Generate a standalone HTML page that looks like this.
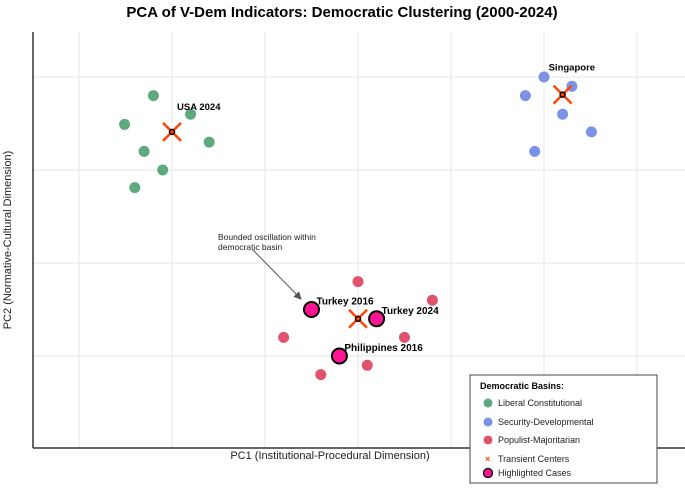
<!DOCTYPE html>
<html><head><meta charset="utf-8"><style>
body{margin:0;background:#fff;}
svg{display:block;font-family:"Liberation Sans",Arial,sans-serif;}
</style></head><body>
<svg id="chart" width="685" height="490">
<defs><marker id="ah" markerWidth="8" markerHeight="8" refX="7" refY="4" orient="auto"><path d="M0,0 L8,4 L0,8 z" fill="#555"/></marker></defs>
<text x="342" y="17" text-anchor="middle" font-size="15" font-weight="bold">PCA of V-Dem Indicators: Democratic Clustering (2000-2024)</text>
<g id="grid"></g>
<line x1="33" y1="32" x2="33" y2="448" stroke="#333" stroke-width="1.5"/>
<line x1="33" y1="448" x2="685" y2="448" stroke="#333" stroke-width="1.5"/>
<text x="330" y="459" text-anchor="middle" font-size="11" fill="#222">PC1 (Institutional-Procedural Dimension)</text>
<text transform="translate(11,240) rotate(-90)" text-anchor="middle" font-size="11" fill="#222">PC2 (Normative-Cultural Dimension)</text>
<g id="marks"></g>
<text x="218" y="240" font-size="8.5" fill="#222"><tspan x="218">Bounded oscillation within</tspan><tspan x="218" dy="10">democratic basin</tspan></text>
<line x1="252" y1="249" x2="301" y2="299" stroke="#555" stroke-width="1" marker-end="url(#ah)"/>
<g>
<rect x="470" y="375" width="187" height="108" fill="#fff" stroke="#444" stroke-width="1"/>
<text x="480" y="389" font-size="9" font-weight="bold">Democratic Basins:</text>
<circle cx="488" cy="403" r="4.5" fill="#5fa97f"/><text x="498" y="406" font-size="9" fill="#222">Liberal Constitutional</text>
<circle cx="488" cy="422" r="4.5" fill="#7b93e6"/><text x="498" y="425" font-size="9" fill="#222">Security-Developmental</text>
<circle cx="488" cy="440" r="4.5" fill="#e0536f"/><text x="498" y="443" font-size="9" fill="#222">Populist-Majoritarian</text>
<text x="485" y="462" font-size="9" fill="#ff4500" font-weight="bold">×</text><text x="498" y="462" font-size="9" fill="#222">Transient Centers</text>
<circle cx="488" cy="473" r="4.5" fill="#ff1493" stroke="#000" stroke-width="1.3"/><text x="498" y="476" font-size="9" fill="#222">Highlighted Cases</text>
</g>
</svg>
<script>
const liberalX=[-2.2,-2.51,-1.8,-1.6,-2.3,-2.1,-2.4];
const liberalY=[1.8,1.49,1.6,1.3,1.2,1.0,0.81];
const securityX=[2.0,1.8,2.3,2.2,2.51,1.9];
const securityY=[2.0,1.8,1.9,1.6,1.41,1.2];
const populistX=[0,0.8,-0.8,0.5,0.1,-0.4];
const populistY=[-0.2,-0.4,-0.8,-0.8,-1.1,-1.2];
const centerX=[-2.0,2.2,0];
const centerY=[1.41,1.81,-0.6];
const highlightLabels=["Turkey 2016","Turkey 2024","Philippines 2016"];
const highlightX=[-0.5,0.2,-0.2];
const highlightY=[-0.5,-0.6,-1.0];
const xTicks=[-3,-2,-1,0,1,2,3];
const yTicks=[2,1,0,-1];
const sx=v=>358+v*93, sy=v=>263-v*93;
const NS="http://www.w3.org/2000/svg";
const grid=document.getElementById('grid'), marks=document.getElementById('marks');
function mk(tag,attrs,parent){const e=document.createElementNS(NS,tag);for(const k in attrs)e.setAttribute(k,attrs[k]);parent.appendChild(e);return e;}
xTicks.forEach(t=>{const l=mk('line',{x1:sx(t),x2:sx(t),y1:32,y2:448,stroke:'#e6e6e6','stroke-width':1},grid);

});
yTicks.forEach(t=>{const l=mk('line',{x1:33,x2:685,y1:sy(t),y2:sy(t),stroke:'#e6e6e6','stroke-width':1},grid);

});
function pts(X,Y,color,name){X.forEach((x,i)=>{const c=mk('circle',{cx:sx(x),cy:sy(Y[i]),r:5.5,fill:color},marks);

});}
pts(liberalX,liberalY,'#5fa97f','liberal-point');
pts(securityX,securityY,'#7b93e6','security-point');
pts(populistX,populistY,'#e0536f','populist-point');
centerX.forEach((x,i)=>{const g=mk('g',{},marks);


const cx=sx(x),cy=sy(centerY[i]);
mk('line',{x1:cx-9,y1:cy-9,x2:cx+9,y2:cy+9,stroke:'#ff4500','stroke-width':2.5},g);
mk('line',{x1:cx-9,y1:cy+9,x2:cx+9,y2:cy-9,stroke:'#ff4500','stroke-width':2.5},g);
mk('circle',{cx:cx,cy:cy,r:2.5,fill:'none',stroke:'#000','stroke-width':1.5},g);});
highlightX.forEach((x,i)=>{const c=mk('circle',{cx:sx(x),cy:sy(highlightY[i]),r:7.5,fill:'#ff1493',stroke:'#000','stroke-width':2},marks);


const t=mk('text',{x:sx(x)+5,y:sy(highlightY[i])-5,'font-size':10,'font-weight':'bold'},marks);
t.textContent=highlightLabels[i];

});
const l1=mk('text',{x:sx(centerX[0])+5,y:sy(centerY[0])-22,'font-size':9.5,'font-weight':'bold'},marks);
l1.textContent='USA 2024';


const l2=mk('text',{x:sx(centerX[1])-14,y:sy(centerY[1])-24,'font-size':9.5,'font-weight':'bold'},marks);
l2.textContent='Singapore';


</script>
</body></html>
